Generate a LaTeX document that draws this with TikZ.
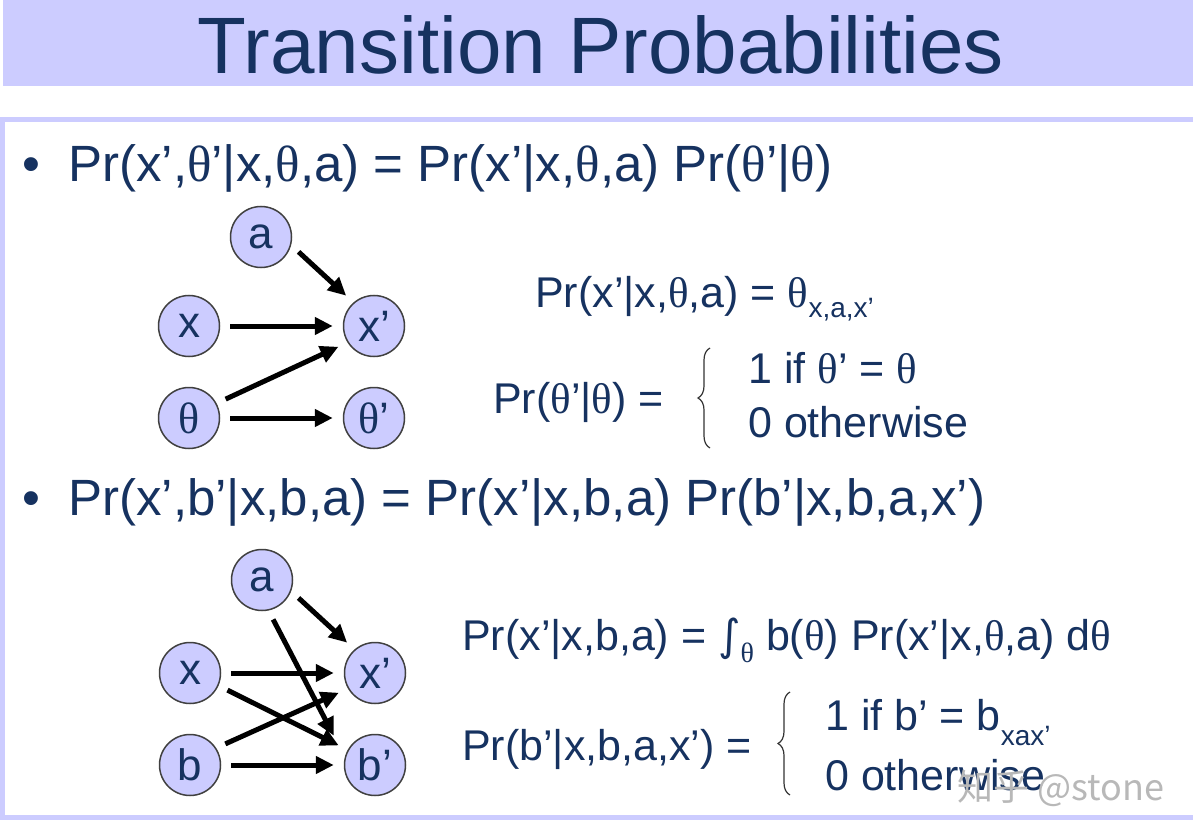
\documentclass[tikz,border=0pt]{standalone}
\usepackage{fontspec}
\setmainfont{Liberation Sans}
\newfontfamily\grk{Liberation Serif}
\newfontfamily\sym{DejaVu Sans}
\newfontfamily\cjk{Noto Sans CJK SC}
\usetikzlibrary{arrows.meta}
\usetikzlibrary{decorations.pathreplacing}
\usepackage{xcolor}
\definecolor{navy}{RGB}{22,50,96}
\definecolor{lav}{RGB}{204,204,255}
\newcommand{\tht}{{\grk θ}}
\newcommand{\lsub}[2][10pt]{\raisebox{-#1}{\fontsize{28}{28}\selectfont #2}}

\begin{document}
\begin{tikzpicture}[x=1pt, y=-1pt,
  every node/.style={text=navy, inner sep=0},
  txt/.style={anchor=base west, font=\fontsize{51}{51}\selectfont},
  eq/.style={anchor=base west, font=\fontsize{43}{43}\selectfont},
  var/.style={circle, draw=black!75, line width=1.5pt, fill=lav, minimum size=61pt, font=\fontsize{44}{44}\selectfont},
  arr/.style={-{Triangle[length=18pt,width=17pt]}, line width=5pt, shorten >=10pt, shorten <=10pt},
  cbrace/.style={decorate, decoration={brace, amplitude=12pt}, line width=1.2pt, black!80}]
\useasboundingbox (0,0) rectangle (1193,834);
\fill[lav] (3,0) rectangle (1193,86);
\draw[lav, line width=5pt] (2.5,120) rectangle (1200,817.5);
\node[anchor=base, font=\fontsize{80}{80}\selectfont] (title) at (601,74) {Transition Probabilities};

\node[txt, anchor=base] (dot1) at (31,182) {•};
\node[txt] (l1) at (68,182) {Pr(x’,\tht’|x,\tht,a) = Pr(x’|x,\tht,a) Pr(\tht’|\tht)};
\node[var] (a1) at (261,237) {a};
\node[var] (x1) at (189,326) {x};
\node[var] (xp1) at (374,326) {x’};
\node[var] (th1) at (189,418) {\tht};
\node[var] (thp1) at (374,418) {\tht’};
\draw[arr] (a1.-15) -- (xp1.131);
\draw[arr] (th1.28) -- (xp1.212);
\foreach \u/\v in {x1/xp1, th1/thp1}
 \draw[arr] (\u) -- (\v);
\node[eq] (e1) at (535,307) {Pr(x’|x,\tht,a) = \tht\lsub{x,a,x’}};
\node[eq] (e2) at (493,413) {Pr(\tht’|\tht) =};
\draw[cbrace] (710,448) -- (710,348);
\node[eq] (c1) at (748,383) {1 if \tht’ = \tht};
\node[eq] (c2) at (748,437) {0 otherwise};

\node[txt, anchor=base] (dot2) at (31,515) {•};
\node[txt] (l2) at (68,515) {Pr(x’,b’|x,b,a) = Pr(x’|x,b,a) Pr(b’|x,b,a,x’)};
\node[var] (a2) at (262,580) {a};
\node[var] (x2) at (190,673) {x};
\node[var] (xp2) at (375,673) {x’};
\node[var] (b2) at (190,765) {b};
\node[var] (bp2) at (375,765) {b’};
\draw[arr] (a2.-21) -- (xp2.131);
\draw[arr, shorten >=24pt] (a2.-78) -- (bp2.165);
\draw[arr] (x2.-24) -- (bp2.151);
\draw[arr] (b2.33) -- (xp2.210);
\foreach \u/\v in {x2/xp2, b2/bp2}
 \draw[arr] (\u) -- (\v);
\node[eq] (e3) at (462,650) {Pr(x’|x,b,a) = {\sym ∫}\lsub[12pt]{\tht} b(\tht) Pr(x’|x,\tht,a) d\tht};
\node[eq] (e4) at (462,760) {Pr(b’|x,b,a,x’) =};
\draw[cbrace] (790,795) -- (790,692);
\node[eq] (c3) at (825,730) {1 if b’ = b\lsub[15pt]{xax’}};
\node[eq] (c4) at (825,790) {0 otherwise};
\node[anchor=base west, font=\cjk\fontsize{36}{36}\selectfont, text=black!28] (mark) at (957,800) {知乎 @stone};
\end{tikzpicture}
\end{document}
